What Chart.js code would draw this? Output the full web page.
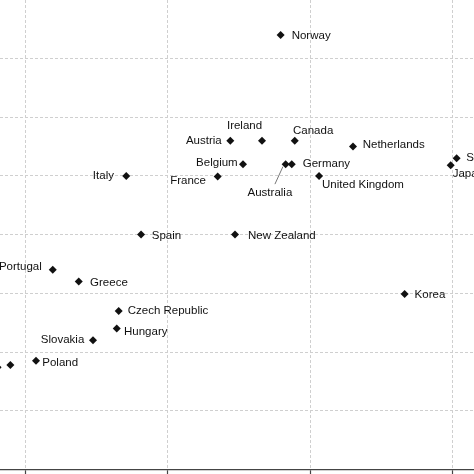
<!DOCTYPE html>
<html>
<head>
<meta charset="utf-8">
<script src="https://cdn.jsdelivr.net/npm/chart.js@4"></script>
<style>
  html, body { margin: 0; padding: 0; background: #fff; }
  #wrap { width: 474px; height: 474px; }
</style>
</head>
<body>
<div id="wrap"><canvas id="scatterChart"></canvas></div>
<script>
const countries = [
  'Norway', 'Ireland', 'Canada', 'Austria', 'Netherlands', 'Belgium',
  'Australia', 'Germany', 'France', 'Italy', 'United Kingdom', 'Switzerland',
  'Japan', 'Spain', 'New Zealand', 'Portugal', 'Greece', 'Czech Republic',
  'Hungary', 'Slovakia', 'Poland', 'Turkey', 'Mexico', 'Korea'
];
const xValues = [
  37.93, 36.62, 38.92, 34.39, 43.02, 35.28,
  38.28, 38.71, 33.50, 27.07, 40.63, 50.31,
  49.89, 28.11, 34.72, 21.90, 23.73, 26.54,
  26.40, 24.73, 20.72, 18.92, 18.02, 46.65
];
const yValues = [
  7.40, 5.60, 5.60, 5.60, 5.50, 5.20,
  5.20, 5.20, 4.99, 5.00, 5.00, 5.30,
  5.18, 4.00, 4.00, 3.40, 3.20, 2.70,
  2.40, 2.20, 1.85, 1.78, 1.74, 2.99
];
const xTickStep = 10;
const yTickStep = 1;

// where each label sits relative to its marker: [dx, dy, align]
const labelPlace = [
  [11, 1, 'left'], [-17.5, -15, 'center'], [-1.7, -10, 'left'], [-8.6, 0, 'right'],
  [9.7, -1.3, 'left'], [-5.3, -1.4, 'right'], [-15.7, 28.3, 'center'], [11, 0, 'left'],
  [-11.7, 4.3, 'right'], [-12.3, 0, 'right'], [3, 9, 'left'], [9.5, -0.5, 'left'],
  [2, 9, 'left'], [10.7, 1, 'left'], [13, 1, 'left'], [-11, -3.3, 'right'],
  [11.3, 1.6, 'left'], [9, 0, 'left'], [7.3, 3, 'left'], [-8.7, 0, 'right'],
  [6.3, 1.7, 'left'], [-40, 0, 'right'], [-40, 0, 'right'], [10, 1, 'left']
];

const pointLabels = {
  id: 'pointLabels',
  afterDatasetsDraw(chart) {
    const ctx = chart.ctx;
    const meta = chart.getDatasetMeta(0);
    ctx.save();
    ctx.font = '11.5px "Liberation Sans", Arial, sans-serif';
    ctx.fillStyle = '#111';
    ctx.textBaseline = 'middle';
    meta.data.forEach((pt, i) => {
      const [dx, dy, align] = labelPlace[i];
      ctx.textAlign = align;
      ctx.fillText(countries[i], pt.x + dx, pt.y + dy);
      if (countries[i] === 'Australia') {
        ctx.strokeStyle = '#777';
        ctx.lineWidth = 1;
        ctx.beginPath();
        ctx.moveTo(pt.x - 2.7, pt.y + 2.5);
        ctx.lineTo(pt.x - 10.7, pt.y + 20);
        ctx.stroke();
      }
    });
    ctx.restore();
  }
};

new Chart(document.getElementById('scatterChart'), {
  type: 'scatter',
  data: {
    datasets: [{
      label: 'Countries',
      data: xValues.map((x, i) => ({ x: x, y: yValues[i] })),
      pointStyle: 'rectRot',
      pointRadius: 4,
      pointHoverRadius: 4,
      backgroundColor: '#111',
      borderColor: '#111',
      borderWidth: 0,
      clip: 10,
    }],
  },
  options: {
    responsive: true,
    maintainAspectRatio: false,
    animation: false,
    layout: { padding: 0, autoPadding: false },
    plugins: {
      legend: { display: false },
      tooltip: { enabled: false },
    },
    scales: {
      x: {
        type: 'linear',
        min: 18.19,
        max: 51.53,
        ticks: { display: false, stepSize: xTickStep, includeBounds: false },
        grid: {
          color: '#cfcfcf',
          lineWidth: 1,
          drawTicks: true,
          tickLength: 4.5,
          tickColor: '#444',
          tickWidth: 1.2,
        },
        border: { display: true, color: '#444', width: 1.3, dash: [3, 2] },
      },
      y: {
        type: 'linear',
        min: 0,
        max: 7.995,
        ticks: { display: false, stepSize: yTickStep, includeBounds: false },
        grid: { color: '#cfcfcf', lineWidth: 1, drawTicks: false },
        border: { display: false, dash: [3, 2] },
      },
    },
  },
  plugins: [pointLabels],
});
</script>
</body>
</html>
